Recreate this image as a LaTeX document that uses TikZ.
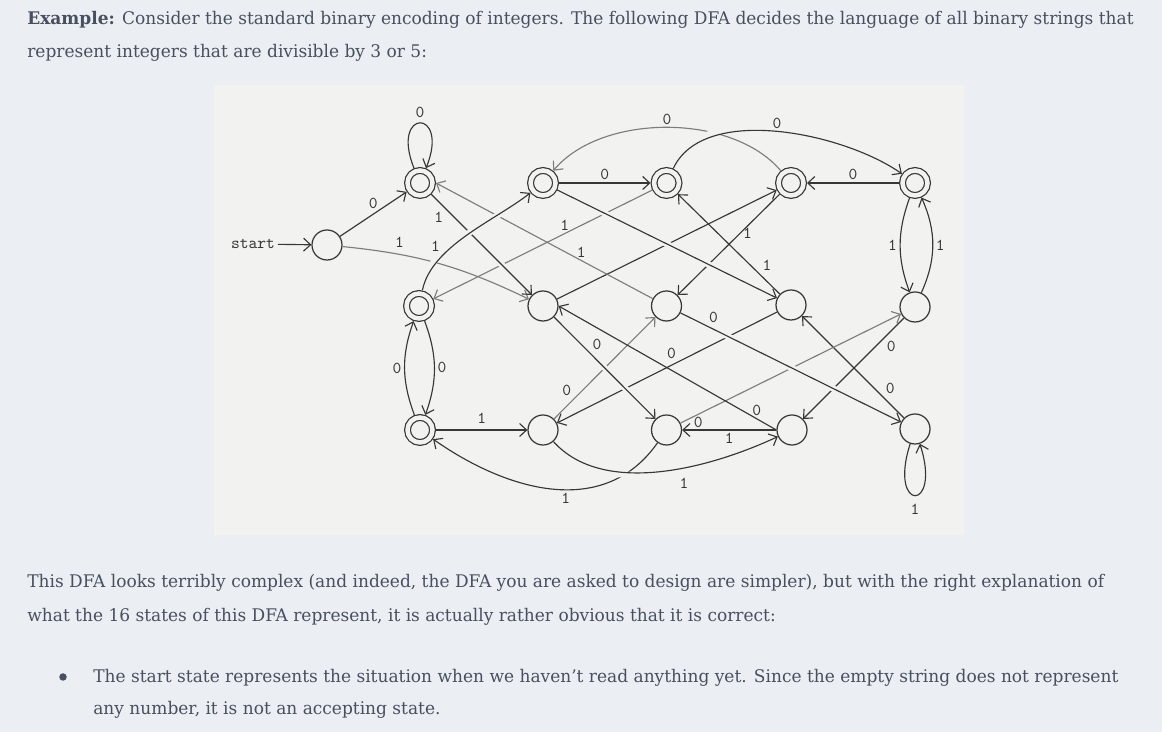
\documentclass[tikz,border=0pt]{standalone}
\usepackage{fontspec}
\setmainfont{DejaVu Serif}[FakeStretch=0.978]
\usetikzlibrary{arrows.meta}

\definecolor{page}{RGB}{235,238,243}
\definecolor{paper}{RGB}{242,242,241}
\definecolor{pen}{RGB}{55,55,55}
\definecolor{penlight}{RGB}{125,125,125}
\definecolor{ink}{RGB}{72,79,94}

\tikzset{
  state/.style={circle, draw=pen, line width=0.7pt, minimum size=0.6cm, inner sep=0pt},
  accept/.style={state, double=paper, double distance=0.09cm, minimum size=0.5cm, outer sep=0.07cm},
  trans/.style={draw=pen, line width=0.65pt, -{Straight Barb[length=1.4mm, width=2.6mm]}},
  soft/.style={draw=penlight},
  over/.style={preaction={draw=paper, line width=3.5pt, -, shorten <=0.2cm, shorten >=0.2cm}},
  lbl/.style={font=\ttfamily\fontsize{9.5}{9.5}\selectfont, text=pen, inner sep=1.5pt},
  txt/.style={anchor=base west, inner sep=0pt, text=ink, font=\fontsize{9.9}{12}\selectfont},
}

\begin{document}
\begin{tikzpicture}

% page and sheet
\fill[page] (0,0) rectangle (23.24,14.64);
\fill[paper] (4.28,3.94) rectangle (19.28,12.94);

% text above
\node[txt] (intro1) at (0.54,14.14) {\textbf{Example:} Consider the standard binary encoding of integers. The following DFA decides the language of all binary strings that};
\node[txt] (intro2) at (0.54,13.48) {represent integers that are divisible by 3 or 5:};

% states
\node[lbl] (start) at (5.06,9.76) {start};
\node[state] (S) at (6.54,9.74) {};

\node[accept] (A1) at (8.40,10.98) {};
\node[accept] (A2) at (10.86,10.98) {};
\node[accept] (A3) at (13.33,10.98) {};
\node[accept] (A4) at (15.82,10.98) {};
\node[accept] (A5) at (18.30,10.98) {};

\node[accept] (B1) at (8.38,8.52) {};
\node[state] (B2) at (10.86,8.52) {};
\node[state] (B3) at (13.33,8.52) {};
\node[state] (B4) at (15.82,8.54) {};
\node[state] (B5) at (18.30,8.50) {};

\node[accept] (C1) at (8.40,6.04) {};
\node[state] (C2) at (10.86,6.04) {};
\node[state] (C3) at (13.33,6.04) {};
\node[state] (C4) at (15.84,6.04) {};
\node[state] (C5) at (18.30,6.06) {};

% transitions drawn underneath
\draw[trans] (start) -- (S);
\draw[trans] (S) -- node[lbl, above=1pt] {0} (A1);
\draw[trans, soft] (S) to[bend left=10] node[lbl, above=2pt, pos=.28] {1} (B2);
\draw[trans] (A1) to[out=112, in=68, looseness=8, min distance=1.3cm] node[lbl, above=1pt] {0} (A1);
\draw[trans] (A2) -- node[lbl, above] {0} (A3);
\draw[trans, soft] (A4) to[out=130, in=50, looseness=.85] node[lbl, above] {0} (A2);
\draw[trans] (A5) -- node[lbl, above] {0} (A4);
\draw[trans, soft] (A3) -- node[lbl, above, pos=.4] {1} (B1);
\draw[trans] (A4) -- node[lbl, right, pos=.39] {1} (B3);
\draw[trans] (B4) -- node[lbl, above right, pos=.2] {1} (A3);
\draw[trans] (B2) -- (A4);
\draw[trans, soft] (B3) -- node[lbl, above, pos=.33] {1} (A1.east);
\draw[trans] (A5) to[bend right=20] node[lbl, left] {1} (B5);
\draw[trans] (B5) to[bend right=24] node[lbl, right] {1} (A5);
\draw[trans] (B1) to[bend left=20] node[lbl, right] {0} (C1);
\draw[trans] (C1) to[bend left=20] node[lbl, left] {0} (B1);
\draw[trans] (B4) -- node[lbl, above=2pt, pos=.48] {0} (C2);
\draw[trans] (B5) -- node[lbl, below right, pos=.2] {0} (C4);
\draw[trans] (C5) -- node[lbl, above right, pos=.21] {0} (B4);
\draw[trans, soft] (C2) -- node[lbl, above left, pos=.2] {0} (B3);
\draw[trans, soft] (C3) -- node[lbl, below, pos=.08] {0} (B5);
\draw[trans] (C4.west) -- node[lbl, above, pos=.09] {0} (B2.east);
\draw[trans] (C1) -- node[lbl, above=2pt] {1} (C2);
\draw[trans] (C4) -- node[lbl, below] {1} (C3);
\draw[trans] (C3) to[out=235, in=-35, looseness=1.05] node[lbl, below, pos=.45] {1} (C1);
\draw[trans] (C5) to[out=252, in=288, looseness=8, min distance=1.45cm] node[lbl, below=3pt] {1} (C5);

% transitions drawn on top
\draw[trans, over] (A1) -- node[lbl, below left, pos=.15] {1} (B2);
\draw[trans, over] (A2) -- (B4);
\draw[trans, over] (A3) to[out=65, in=145, looseness=.8] node[lbl, above] {0} (A5);
\draw[trans, over] (B1) to[out=78, in=218, looseness=.8] node[lbl, above left, pos=.3] {1} (A2);
\draw[trans, over] (B2) -- node[lbl, above right, pos=.35] {0} (C3);
\draw[trans, over] (B3) -- node[lbl, above=2pt, pos=.15] {0} (C5);
\draw[trans, over] (C2) to[out=-48, in=205, looseness=.85] node[lbl, below=4pt, pos=.6] {1} (C4);

% text below
\node[txt] (expl1) at (0.54,2.88) {This DFA looks terribly complex (and indeed, the DFA you are asked to design are simpler), but with the right explanation of};
\node[txt] (expl2) at (0.54,2.20) {what the 16 states of this DFA represent, it is actually rather obvious that it is correct:};
\fill[ink] (1.26,1.10) circle(0.075);
\node[txt] (item1) at (1.86,0.98) {The start state represents the situation when we haven’t read anything yet. Since the empty string does not represent};
\node[txt] (item2) at (1.86,0.34) {any number, it is not an accepting state.};

\end{tikzpicture}
\end{document}
